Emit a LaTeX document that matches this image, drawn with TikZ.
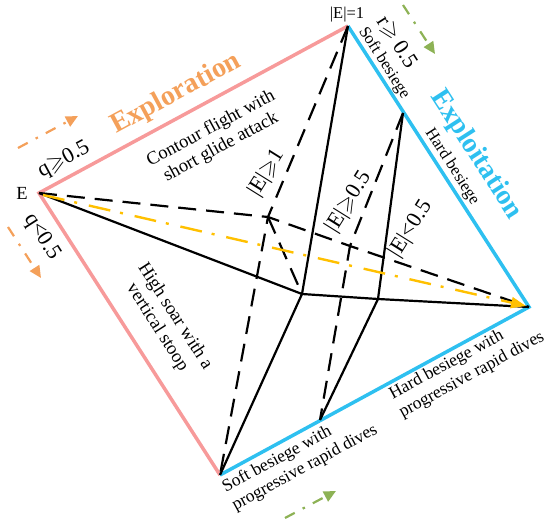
\documentclass[tikz,border=0pt]{standalone}
\usepackage{amssymb}
\usepackage{fontspec}
\setmainfont{Liberation Serif}
\usetikzlibrary{arrows.meta}
\definecolor{pinkc}{HTML}{F79A9A}
\definecolor{orangec}{HTML}{F4A05A}
\definecolor{bluec}{HTML}{2EC0F0}
\definecolor{yellowc}{HTML}{FFC000}
\definecolor{greenc}{HTML}{8DB255}
\tikzset{
  pinkedge/.style={draw=pinkc, line width=3.5pt},
  blueedge/.style={draw=bluec, line width=3.5pt},
  solidln/.style={draw=black, line width=2.2pt},
  dashln/.style={draw=black, line width=2.2pt, dash pattern=on 18pt off 10pt},
  yarrow/.style={draw=yellowc, line width=2.4pt, dash pattern=on 22pt off 10pt on 3pt off 12pt, -{Triangle[length=15pt,width=11pt]}},
  hintarrow/.style={line width=2.2pt, dash pattern=on 11pt off 9pt on 2.5pt off 9pt},
  body/.style={font=\fontsize{18.5}{21}\selectfont, inner sep=0pt},
  bodyb/.style={font=\fontsize{17.5}{20.5}\selectfont, inner sep=0pt},
  small/.style={font=\fontsize{16.5}{18}\selectfont, inner sep=0pt},
  cond/.style={font=\fontsize{22}{24}\selectfont, inner sep=0pt},
  title/.style={font=\fontsize{28}{30}\selectfont\bfseries, inner sep=0pt},
}
\begin{document}
\begin{tikzpicture}[x=1pt,y=-1pt]
\useasboundingbox (0,0) rectangle (550,527);
% vertices
\coordinate (E) at (39,193);
\coordinate (T) at (348,26);
\coordinate (R) at (529,307);
\coordinate (B) at (220,475);
% inner points
\coordinate (C1) at (302,294);
\coordinate (C2) at (378,299);
\coordinate (D1) at (268,217);
\coordinate (D2) at (350,246);
\coordinate (P1) at (403,113);
\coordinate (Q1) at (320,420);
\coordinate (Ys) at (43,195);
\coordinate (Ye) at (526,306);
% outer edges
\draw[pinkedge] (B) -- (E) -- (T);
\draw[blueedge] (T) -- (R) -- (B);
% solid lines
\draw[solidln] (E) -- (C1);
\draw[solidln] (T) -- (C1) -- (B);
\draw[solidln] (C1) -- (C2) -- (R);
\draw[solidln] (P1) -- (C2) -- (Q1);
% dashed lines
\draw[dashln] (E) -- (D1) -- (D2) -- (R);
\draw[dashln] (T) -- (D1) -- (B);
\draw[dashln] (D1) -- (C1);
\draw[dashln] (P1) -- (D2) -- (Q1);
% yellow arrow
\draw[yarrow] (Ys) -- (Ye);
% direction hints
\coordinate (o1s) at (18,148); \coordinate (o1e) at (78,116);
\coordinate (o2s) at (8,227);  \coordinate (o2e) at (41,278);
\coordinate (g1s) at (403,5);  \coordinate (g1e) at (435,54);
\coordinate (g2s) at (285,518); \coordinate (g2e) at (336,491);
\draw[hintarrow, draw=orangec, -{Triangle[length=12pt,width=11pt,fill=orangec]}] (o1s) -- (o1e);
\draw[hintarrow, draw=orangec, -{Triangle[length=12pt,width=11pt,fill=orangec]}] (o2s) -- (o2e);
\draw[hintarrow, draw=greenc, -{Triangle[length=12pt,width=11pt,fill=greenc]}] (g1s) -- (g1e);
\draw[hintarrow, draw=greenc, -{Triangle[length=12pt,width=11pt,fill=greenc]}] (g2s) -- (g2e);
% labels
\node[body] (lE) at (22,193) {E};
\node[small] (lT) at (347,15) {|E|=1};
\node[cond, rotate=28.4] (lq1) at (64,160) {q$\geqslant$0.5};
\node[cond, rotate=-57.3] (lq2) at (42,237) {q<0.5};
\node[cond, rotate=-57.2] (lr) at (397,42) {r$\geqslant$ 0.5};
\node[title, text=orangec, rotate=28.4] (lexp) at (176,94) {Exploration};
\node[title, text=bluec, rotate=-57.2] (lexl) at (476,155) {Exploitation};
\node[body, rotate=28.4, align=center] (lcf) at (216,138) {Contour flight with\\short glide attack};
\node[body, rotate=-57.3, align=center] (lhs) at (166,322) {High soar with a\\vertical stoop};
\node[small, rotate=-57.2] (lsb) at (384,63) {Soft besiege};
\node[small, rotate=-57.2] (lhb) at (452,167) {Hard besiege};
\node[bodyb, rotate=28.5, align=left] (lsbp) at (300,459) {Soft besiege with\\progressive rapid dives};
\node[bodyb, rotate=28.5, align=left] (lhbp) at (467,366) {Hard besiege with\\progressive rapid dives};
\node[cond, rotate=58] (le1) at (267,173) {|E|$\geqslant$1};
\node[cond, rotate=58] (le2) at (349,202) {|E|$\geqslant$0.5};
\node[cond, rotate=58] (le3) at (411,229) {|E|<0.5};
\end{tikzpicture}
\end{document}
